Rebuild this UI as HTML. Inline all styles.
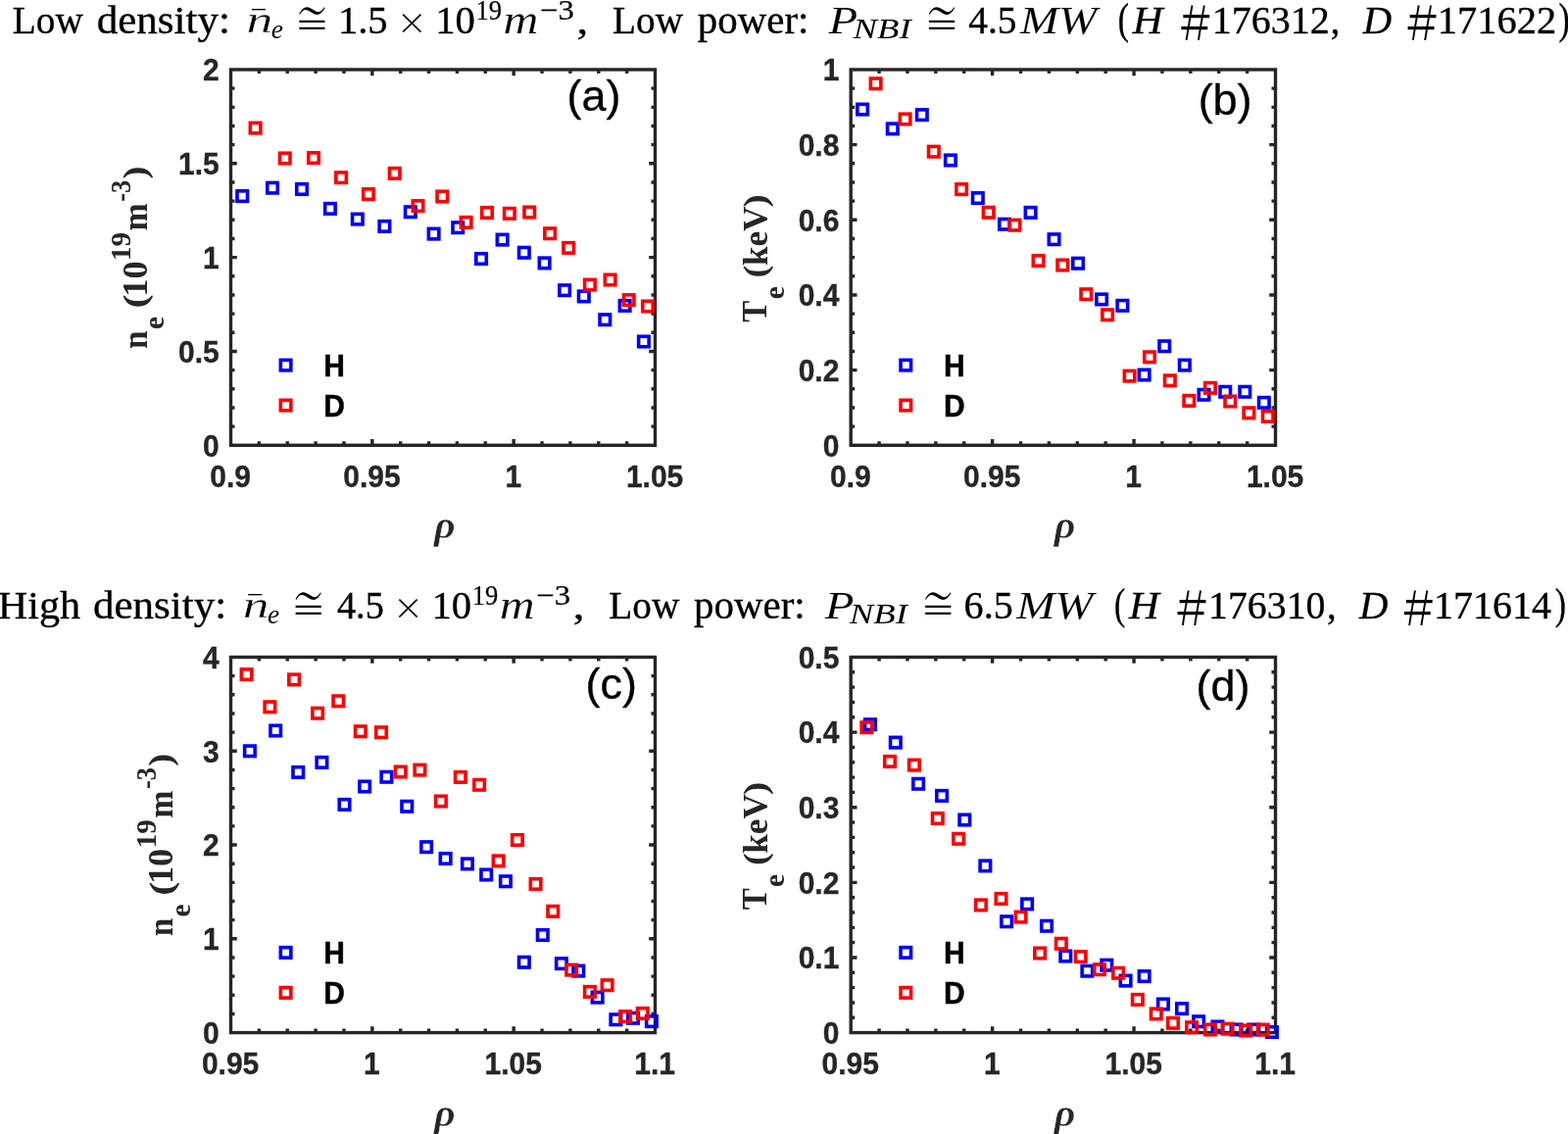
<!DOCTYPE html>
<html lang="en"><head><meta charset="utf-8"><title>Edge profiles: H vs D</title>
<style>
html,body{margin:0;padding:0;background:#fff;}
body{width:1600px;height:1157px;overflow:hidden;}
svg{display:block;}
.tk{font-family:"Liberation Sans",Arial,Helvetica,sans-serif;font-weight:bold;font-size:30px;fill:#262626;stroke:#262626;stroke-width:0.35px;}
.lg{font-family:"Liberation Sans",Arial,Helvetica,sans-serif;font-weight:bold;font-size:30px;fill:#000;stroke:#000;stroke-width:0.45px;}
.tg{font-family:"Liberation Sans",Arial,Helvetica,sans-serif;font-size:43px;fill:#000;stroke:#000;stroke-width:0.3px;text-anchor:middle;}
.yl{font-family:"Liberation Serif","Times New Roman",Times,serif;font-weight:bold;font-size:36px;fill:#262626;}
.ys{font-size:29px;}
.xl{font-family:"Liberation Serif","Times New Roman",Times,serif;font-weight:bold;font-style:italic;font-size:40px;fill:#262626;stroke:#fff;stroke-width:0.4px;}
.tt{font-family:"Liberation Serif","Times New Roman",Times,serif;font-size:40.5px;fill:#000;stroke:#000;stroke-width:0.35px;}
.it{font-style:italic;stroke:none;}
.ss{font-size:29px;stroke-width:0.2px;}
.ss.it{stroke:none;}
.sy{font-family:"Noto Serif CJK SC","Noto Sans CJK SC","DejaVu Sans",serif;font-weight:400;stroke:#000;stroke-width:0.4px;}
.ax{fill:none;stroke:#262626;stroke-width:3.4;}
.mk{fill:none;stroke-width:3.6;}
.H{stroke:#0000ff;}
.D{stroke:#ff0000;}
</style></head><body>
<svg width="1600" height="1157" viewBox="0 0 1600 1157">
<rect x="0" y="0" width="1600" height="1157" fill="#ffffff"/>
<g id="titles" class="tt">
<text transform="translate(12.84 33.75) scale(0.971 1)">Low</text>
<text transform="translate(98.71 33.75) scale(1.063 1)">density:</text>
<text transform="translate(257.37 28.37) scale(0.663 0.629)">¯</text>
<text class="it" style="stroke:#fff;stroke-width:0.36px" transform="translate(251.41 33.3) scale(1.326 0.947)">n</text>
<text class="ss it" transform="translate(276.85 39.22) scale(0.947 0.939)">e</text>
<text class="sy" style="stroke:none" transform="translate(299.76 39.23) scale(0.923 1.324)">≅</text>
<text transform="translate(344.88 33.75) scale(1.004 1)">1.5</text>
<text class="sy" transform="translate(404.76 34.69) scale(0.767 0.758)">×</text>
<text transform="translate(444.29 33.75) scale(1.004 1)">10</text>
<text class="ss" transform="translate(485.51 19.95) scale(0.917 1)">19</text>
<text class="it" style="stroke:#fff;stroke-width:0.20px" transform="translate(513.46 33.75) scale(1.227 1)">m</text>
<text class="ss" transform="translate(551.11 19.95) scale(1.129 1)">−3</text>
<text transform="translate(588.57 33.75) scale(1.150 1)">,</text>
<text transform="translate(625.09 33.75) scale(0.969 1)">Low</text>
<text transform="translate(711.79 33.75) scale(1.011 1)">power:</text>
<text class="it" style="stroke:#fff;stroke-width:0.16px" transform="translate(845.6 33.75) scale(1.200 1)">P</text>
<text class="ss it" transform="translate(870.62 39.1) scale(1.264 1.021)">NBI</text>
<text class="sy" style="stroke:none" transform="translate(942.24 39.23) scale(0.926 1.324)">≅</text>
<text transform="translate(988.32 33.75) scale(0.972 1)">4.5</text>
<text class="it" style="stroke:#fff;stroke-width:0.10px" transform="translate(1040.88 33.75) scale(1.162 1)">MW</text>
<text transform="translate(1140.74 33.62) scale(0.833 1.079)">(</text>
<text class="it" style="stroke:#000;stroke-width:0.3px" transform="translate(1155.83 33.75) scale(1.052 1)">H</text>
<text class="sy" style="stroke:none" transform="translate(1203.94 40.7) scale(1.355 1.233)">#</text>
<text transform="translate(1236.84 33.75) scale(0.988 1)">176312</text>
<text transform="translate(1357.64 33.75) scale(0.942 1)">,</text>
<text class="it" style="stroke:#000;stroke-width:0.3px" transform="translate(1390.8 33.75) scale(1.005 1)">D</text>
<text class="sy" style="stroke:none" transform="translate(1435.2 40.7) scale(1.353 1.233)">#</text>
<text transform="translate(1466.8 33.75) scale(0.999 1)">171622</text>
<text transform="translate(1590.51 33.62) scale(0.833 1.079)">)</text>
<text transform="translate(-2.2 630.75) scale(1.041 1)">High</text>
<text transform="translate(94.96 630.75) scale(1.063 1)">density:</text>
<text transform="translate(253.62 625.37) scale(0.663 0.629)">¯</text>
<text class="it" style="stroke:#fff;stroke-width:0.36px" transform="translate(247.66 630.3) scale(1.326 0.947)">n</text>
<text class="ss it" transform="translate(273.1 636.22) scale(0.947 0.939)">e</text>
<text class="sy" style="stroke:none" transform="translate(296.01 636.23) scale(0.923 1.324)">≅</text>
<text transform="translate(343.94 630.75) scale(0.947 1)">4.5</text>
<text class="sy" transform="translate(401.01 631.69) scale(0.767 0.758)">×</text>
<text transform="translate(440.54 630.75) scale(1.004 1)">10</text>
<text class="ss" transform="translate(481.76 616.95) scale(0.917 1)">19</text>
<text class="it" style="stroke:#fff;stroke-width:0.20px" transform="translate(509.71 630.75) scale(1.227 1)">m</text>
<text class="ss" transform="translate(547.36 616.95) scale(1.129 1)">−3</text>
<text transform="translate(584.82 630.75) scale(1.150 1)">,</text>
<text transform="translate(621.34 630.75) scale(0.969 1)">Low</text>
<text transform="translate(708.04 630.75) scale(1.011 1)">power:</text>
<text class="it" style="stroke:#fff;stroke-width:0.16px" transform="translate(841.85 630.75) scale(1.200 1)">P</text>
<text class="ss it" transform="translate(866.87 636.1) scale(1.264 1.021)">NBI</text>
<text class="sy" style="stroke:none" transform="translate(938.49 636.23) scale(0.926 1.324)">≅</text>
<text transform="translate(983.56 630.75) scale(0.993 1)">6.5</text>
<text class="it" style="stroke:#fff;stroke-width:0.10px" transform="translate(1037.13 630.75) scale(1.162 1)">MW</text>
<text transform="translate(1136.99 630.62) scale(0.833 1.079)">(</text>
<text class="it" style="stroke:#000;stroke-width:0.3px" transform="translate(1152.08 630.75) scale(1.052 1)">H</text>
<text class="sy" style="stroke:none" transform="translate(1200.19 637.7) scale(1.355 1.233)">#</text>
<text transform="translate(1233.11 630.75) scale(0.982 1)">176310</text>
<text transform="translate(1353.89 630.75) scale(0.942 1)">,</text>
<text class="it" style="stroke:#000;stroke-width:0.3px" transform="translate(1387.05 630.75) scale(1.005 1)">D</text>
<text class="sy" style="stroke:none" transform="translate(1431.45 637.7) scale(1.353 1.233)">#</text>
<text transform="translate(1463.1 630.75) scale(0.986 1)">171614</text>
<text transform="translate(1586.76 630.62) scale(0.833 1.079)">)</text>
</g>
<g id="panel-a">
<path class="ax" d="M264.37 454.3v-4M264.37 71v4M293.23 454.3v-4M293.23 71v4M322.1 454.3v-4M322.1 71v4M350.97 454.3v-4M350.97 71v4M379.83 454.3v-6.3M379.83 71v6.3M408.7 454.3v-4M408.7 71v4M437.57 454.3v-4M437.57 71v4M466.43 454.3v-4M466.43 71v4M495.3 454.3v-4M495.3 71v4M524.17 454.3v-6.3M524.17 71v6.3M553.03 454.3v-4M553.03 71v4M581.9 454.3v-4M581.9 71v4M610.77 454.3v-4M610.77 71v4M639.63 454.3v-4M639.63 71v4M235.5 435.13h4M668.5 435.13h-4M235.5 415.97h4M668.5 415.97h-4M235.5 396.81h4M668.5 396.81h-4M235.5 377.64h4M668.5 377.64h-4M235.5 358.48h6.3M668.5 358.48h-6.3M235.5 339.31h4M668.5 339.31h-4M235.5 320.14h4M668.5 320.14h-4M235.5 300.98h4M668.5 300.98h-4M235.5 281.81h4M668.5 281.81h-4M235.5 262.65h6.3M668.5 262.65h-6.3M235.5 243.48h4M668.5 243.48h-4M235.5 224.32h4M668.5 224.32h-4M235.5 205.16h4M668.5 205.16h-4M235.5 185.99h4M668.5 185.99h-4M235.5 166.82h6.3M668.5 166.82h-6.3M235.5 147.66h4M668.5 147.66h-4M235.5 128.49h4M668.5 128.49h-4M235.5 109.33h4M668.5 109.33h-4M235.5 90.16h4M668.5 90.16h-4"/>
<rect class="ax" x="235.5" y="71" width="433" height="383.3"/>
<text class="tk" text-anchor="middle" transform="translate(235.1 496.9) scale(1 1.022)">0.9</text>
<text class="tk" text-anchor="middle" transform="translate(379.43 496.9) scale(1 1.022)">0.95</text>
<text class="tk" text-anchor="middle" transform="translate(523.77 496.9) scale(1 1.022)">1</text>
<text class="tk" text-anchor="middle" transform="translate(668.1 496.9) scale(1 1.022)">1.05</text>
<text class="tk" text-anchor="end" transform="translate(223.7 465.6) scale(1 1.022)">0</text>
<text class="tk" text-anchor="end" transform="translate(223.7 369.78) scale(1 1.022)">0.5</text>
<text class="tk" text-anchor="end" transform="translate(223.7 273.95) scale(1 1.022)">1</text>
<text class="tk" text-anchor="end" transform="translate(223.7 178.12) scale(1 1.022)">1.5</text>
<text class="tk" text-anchor="end" transform="translate(223.7 82.3) scale(1 1.022)">2</text>
<text class="xl" transform="translate(442.95 549.3) scale(1.052 0.98)">ρ</text>
<g class="yl">
<text transform="translate(149.8 355.93) rotate(-90) scale(0.930 0.988)">n</text>
<text class="ys" transform="translate(167.25 336.12) rotate(-90) scale(1.018 1.011)">e</text>
<text transform="translate(149.24 314.47) rotate(-90) scale(1.178 0.942)">(</text>
<text transform="translate(149.65 302.72) rotate(-90) scale(1.008 0.992)">10</text>
<text class="ys" transform="translate(132.65 265.95) rotate(-90) scale(0.998 1.005)">19</text>
<text transform="translate(149.9 235.43) rotate(-90) scale(0.935 0.982)">m</text>
<text class="ys" transform="translate(132.94 205.81) rotate(-90) scale(0.912 1.021)">-3</text>
<text transform="translate(148.87 182.55) rotate(-90) scale(1.081 0.924)">)</text>
</g>
<rect class="mk H" x="286.35" y="367.35" width="10.5" height="10.5"/>
<rect class="mk D" x="286.35" y="408.3" width="10.5" height="10.5"/>
<text class="lg" transform="translate(330.2 383.75) scale(1 1.022)">H</text>
<text class="lg" transform="translate(330.2 424.75) scale(1 1.022)">D</text>
<text class="tg" transform="translate(606 112.5) scale(1.045 1.015)">(a)</text>
<g class="mk H">
<rect x="242" y="194.85" width="10.5" height="10.5"/>
<rect x="272.75" y="186.45" width="10.5" height="10.5"/>
<rect x="302.75" y="187.75" width="10.5" height="10.5"/>
<rect x="331.65" y="207.65" width="10.5" height="10.5"/>
<rect x="359.55" y="218.35" width="10.5" height="10.5"/>
<rect x="387.15" y="225.65" width="10.5" height="10.5"/>
<rect x="413.55" y="211" width="10.5" height="10.5"/>
<rect x="437.35" y="233.35" width="10.5" height="10.5"/>
<rect x="462" y="226.95" width="10.5" height="10.5"/>
<rect x="485.8" y="258.75" width="10.5" height="10.5"/>
<rect x="507.35" y="239.35" width="10.5" height="10.5"/>
<rect x="529.55" y="252.5" width="10.5" height="10.5"/>
<rect x="550.35" y="263.15" width="10.5" height="10.5"/>
<rect x="570.85" y="290.95" width="10.5" height="10.5"/>
<rect x="590.5" y="297.15" width="10.5" height="10.5"/>
<rect x="612.05" y="320.95" width="10.5" height="10.5"/>
<rect x="632.35" y="306.65" width="10.5" height="10.5"/>
<rect x="651.65" y="343.25" width="10.5" height="10.5"/>
</g>
<g class="mk D">
<rect x="255.35" y="125.35" width="10.5" height="10.5"/>
<rect x="285.5" y="156.25" width="10.5" height="10.5"/>
<rect x="314.75" y="155.85" width="10.5" height="10.5"/>
<rect x="342.85" y="175.95" width="10.5" height="10.5"/>
<rect x="370.65" y="192.85" width="10.5" height="10.5"/>
<rect x="397.45" y="171.65" width="10.5" height="10.5"/>
<rect x="421.25" y="204.85" width="10.5" height="10.5"/>
<rect x="446.05" y="195.25" width="10.5" height="10.5"/>
<rect x="470.35" y="221.65" width="10.5" height="10.5"/>
<rect x="491.7" y="211.75" width="10.5" height="10.5"/>
<rect x="514.6" y="212.6" width="10.5" height="10.5"/>
<rect x="535" y="211.25" width="10.5" height="10.5"/>
<rect x="555.85" y="233" width="10.5" height="10.5"/>
<rect x="574.95" y="247.65" width="10.5" height="10.5"/>
<rect x="596.65" y="285.35" width="10.5" height="10.5"/>
<rect x="617.35" y="280.25" width="10.5" height="10.5"/>
<rect x="636.45" y="300.85" width="10.5" height="10.5"/>
<rect x="655.75" y="307.25" width="10.5" height="10.5"/>
</g>
</g>
<g id="panel-b">
<path class="ax" d="M897.09 454.3v-4M897.09 71v4M925.97 454.3v-4M925.97 71v4M954.86 454.3v-4M954.86 71v4M983.75 454.3v-4M983.75 71v4M1012.63 454.3v-6.3M1012.63 71v6.3M1041.52 454.3v-4M1041.52 71v4M1070.41 454.3v-4M1070.41 71v4M1099.29 454.3v-4M1099.29 71v4M1128.18 454.3v-4M1128.18 71v4M1157.07 454.3v-6.3M1157.07 71v6.3M1185.95 454.3v-4M1185.95 71v4M1214.84 454.3v-4M1214.84 71v4M1243.73 454.3v-4M1243.73 71v4M1272.61 454.3v-4M1272.61 71v4M868.2 435.13h4M1301.5 435.13h-4M868.2 415.97h4M1301.5 415.97h-4M868.2 396.81h4M1301.5 396.81h-4M868.2 377.64h6.3M1301.5 377.64h-6.3M868.2 358.48h4M1301.5 358.48h-4M868.2 339.31h4M1301.5 339.31h-4M868.2 320.14h4M1301.5 320.14h-4M868.2 300.98h6.3M1301.5 300.98h-6.3M868.2 281.81h4M1301.5 281.81h-4M868.2 262.65h4M1301.5 262.65h-4M868.2 243.48h4M1301.5 243.48h-4M868.2 224.32h6.3M1301.5 224.32h-6.3M868.2 205.16h4M1301.5 205.16h-4M868.2 185.99h4M1301.5 185.99h-4M868.2 166.82h4M1301.5 166.82h-4M868.2 147.66h6.3M1301.5 147.66h-6.3M868.2 128.49h4M1301.5 128.49h-4M868.2 109.33h4M1301.5 109.33h-4M868.2 90.16h4M1301.5 90.16h-4"/>
<rect class="ax" x="868.2" y="71" width="433.3" height="383.3"/>
<text class="tk" text-anchor="middle" transform="translate(867.8 496.9) scale(1 1.022)">0.9</text>
<text class="tk" text-anchor="middle" transform="translate(1012.23 496.9) scale(1 1.022)">0.95</text>
<text class="tk" text-anchor="middle" transform="translate(1156.67 496.9) scale(1 1.022)">1</text>
<text class="tk" text-anchor="middle" transform="translate(1301.1 496.9) scale(1 1.022)">1.05</text>
<text class="tk" text-anchor="end" transform="translate(856.4 465.6) scale(1 1.022)">0</text>
<text class="tk" text-anchor="end" transform="translate(856.4 388.94) scale(1 1.022)">0.2</text>
<text class="tk" text-anchor="end" transform="translate(856.4 312.28) scale(1 1.022)">0.4</text>
<text class="tk" text-anchor="end" transform="translate(856.4 235.62) scale(1 1.022)">0.6</text>
<text class="tk" text-anchor="end" transform="translate(856.4 158.96) scale(1 1.022)">0.8</text>
<text class="tk" text-anchor="end" transform="translate(856.4 82.3) scale(1 1.022)">1</text>
<text class="xl" transform="translate(1075.8 549.3) scale(1.052 0.98)">ρ</text>
<g class="yl">
<text transform="translate(782.2 328.66) rotate(-90) scale(0.920 0.987)">T</text>
<text class="ys" transform="translate(799.8 305.32) rotate(-90) scale(1.018 0.993)">e</text>
<text transform="translate(782.14 283.51) rotate(-90) scale(1.070 0.942)">(</text>
<text transform="translate(783 271.07) rotate(-90) scale(0.974 0.974)">keV</text>
<text transform="translate(782.08 211.38) rotate(-90) scale(1.103 0.949)">)</text>
</g>
<rect class="mk H" x="919.05" y="367.35" width="10.5" height="10.5"/>
<rect class="mk D" x="919.05" y="408.3" width="10.5" height="10.5"/>
<text class="lg" transform="translate(962.9 383.75) scale(1 1.022)">H</text>
<text class="lg" transform="translate(962.9 424.75) scale(1 1.022)">D</text>
<text class="tg" transform="translate(1250.1 116.8) scale(1.045 1.015)">(b)</text>
<g class="mk H">
<rect x="874.85" y="106.35" width="10.5" height="10.5"/>
<rect x="905.55" y="126.15" width="10.5" height="10.5"/>
<rect x="935.55" y="111.95" width="10.5" height="10.5"/>
<rect x="964.65" y="158.25" width="10.5" height="10.5"/>
<rect x="992.55" y="196.85" width="10.5" height="10.5"/>
<rect x="1019.75" y="223.5" width="10.5" height="10.5"/>
<rect x="1046.35" y="211.65" width="10.5" height="10.5"/>
<rect x="1070.3" y="238.95" width="10.5" height="10.5"/>
<rect x="1094.8" y="263.45" width="10.5" height="10.5"/>
<rect x="1118.85" y="300.15" width="10.5" height="10.5"/>
<rect x="1140.15" y="306.55" width="10.5" height="10.5"/>
<rect x="1162.35" y="377.25" width="10.5" height="10.5"/>
<rect x="1182.95" y="348" width="10.5" height="10.5"/>
<rect x="1203.55" y="367.35" width="10.5" height="10.5"/>
<rect x="1223.25" y="397.5" width="10.5" height="10.5"/>
<rect x="1245" y="394.5" width="10.5" height="10.5"/>
<rect x="1265.05" y="394.5" width="10.5" height="10.5"/>
<rect x="1284.55" y="405.55" width="10.5" height="10.5"/>
</g>
<g class="mk D">
<rect x="888.35" y="80.05" width="10.5" height="10.5"/>
<rect x="918.35" y="116.25" width="10.5" height="10.5"/>
<rect x="947.55" y="149.45" width="10.5" height="10.5"/>
<rect x="975.85" y="187.85" width="10.5" height="10.5"/>
<rect x="1003.45" y="211.5" width="10.5" height="10.5"/>
<rect x="1030.25" y="224.45" width="10.5" height="10.5"/>
<rect x="1054.3" y="260.75" width="10.5" height="10.5"/>
<rect x="1079.05" y="265.25" width="10.5" height="10.5"/>
<rect x="1103.05" y="294.95" width="10.5" height="10.5"/>
<rect x="1124.85" y="315.95" width="10.5" height="10.5"/>
<rect x="1147.35" y="378.35" width="10.5" height="10.5"/>
<rect x="1167.75" y="359.05" width="10.5" height="10.5"/>
<rect x="1188.55" y="383.05" width="10.5" height="10.5"/>
<rect x="1208.05" y="403.65" width="10.5" height="10.5"/>
<rect x="1229.65" y="390.55" width="10.5" height="10.5"/>
<rect x="1250.05" y="404.25" width="10.5" height="10.5"/>
<rect x="1269.15" y="416.05" width="10.5" height="10.5"/>
<rect x="1288.5" y="419.65" width="10.5" height="10.5"/>
</g>
</g>
<g id="panel-c">
<path class="ax" d="M264.37 1053.6v-4M264.37 670.5v4M293.23 1053.6v-4M293.23 670.5v4M322.1 1053.6v-4M322.1 670.5v4M350.97 1053.6v-4M350.97 670.5v4M379.83 1053.6v-6.3M379.83 670.5v6.3M408.7 1053.6v-4M408.7 670.5v4M437.57 1053.6v-4M437.57 670.5v4M466.43 1053.6v-4M466.43 670.5v4M495.3 1053.6v-4M495.3 670.5v4M524.17 1053.6v-6.3M524.17 670.5v6.3M553.03 1053.6v-4M553.03 670.5v4M581.9 1053.6v-4M581.9 670.5v4M610.77 1053.6v-4M610.77 670.5v4M639.63 1053.6v-4M639.63 670.5v4M235.5 1034.44h4M668.5 1034.44h-4M235.5 1015.29h4M668.5 1015.29h-4M235.5 996.13h4M668.5 996.13h-4M235.5 976.98h4M668.5 976.98h-4M235.5 957.82h6.3M668.5 957.82h-6.3M235.5 938.67h4M668.5 938.67h-4M235.5 919.51h4M668.5 919.51h-4M235.5 900.36h4M668.5 900.36h-4M235.5 881.2h4M668.5 881.2h-4M235.5 862.05h6.3M668.5 862.05h-6.3M235.5 842.89h4M668.5 842.89h-4M235.5 823.74h4M668.5 823.74h-4M235.5 804.58h4M668.5 804.58h-4M235.5 785.43h4M668.5 785.43h-4M235.5 766.27h6.3M668.5 766.27h-6.3M235.5 747.12h4M668.5 747.12h-4M235.5 727.96h4M668.5 727.96h-4M235.5 708.81h4M668.5 708.81h-4M235.5 689.65h4M668.5 689.65h-4"/>
<rect class="ax" x="235.5" y="670.5" width="433" height="383.1"/>
<text class="tk" text-anchor="middle" transform="translate(235.1 1096.2) scale(1 1.022)">0.95</text>
<text class="tk" text-anchor="middle" transform="translate(379.43 1096.2) scale(1 1.022)">1</text>
<text class="tk" text-anchor="middle" transform="translate(523.77 1096.2) scale(1 1.022)">1.05</text>
<text class="tk" text-anchor="middle" transform="translate(668.1 1096.2) scale(1 1.022)">1.1</text>
<text class="tk" text-anchor="end" transform="translate(223.7 1064.9) scale(1 1.022)">0</text>
<text class="tk" text-anchor="end" transform="translate(223.7 969.12) scale(1 1.022)">1</text>
<text class="tk" text-anchor="end" transform="translate(223.7 873.35) scale(1 1.022)">2</text>
<text class="tk" text-anchor="end" transform="translate(223.7 777.57) scale(1 1.022)">3</text>
<text class="tk" text-anchor="end" transform="translate(223.7 681.8) scale(1 1.022)">4</text>
<text class="xl" transform="translate(442.95 1148.6) scale(1.052 0.98)">ρ</text>
<g class="yl">
<text transform="translate(176.35 955.23) rotate(-90) scale(0.930 0.988)">n</text>
<text class="ys" transform="translate(193.8 935.42) rotate(-90) scale(1.018 1.011)">e</text>
<text transform="translate(175.79 913.77) rotate(-90) scale(1.178 0.942)">(</text>
<text transform="translate(176.2 902.02) rotate(-90) scale(1.008 0.992)">10</text>
<text class="ys" transform="translate(159.2 865.25) rotate(-90) scale(0.998 1.005)">19</text>
<text transform="translate(176.45 834.73) rotate(-90) scale(0.935 0.982)">m</text>
<text class="ys" transform="translate(159.49 805.11) rotate(-90) scale(0.912 1.021)">-3</text>
<text transform="translate(175.42 781.85) rotate(-90) scale(1.081 0.924)">)</text>
</g>
<rect class="mk H" x="286.35" y="966.65" width="10.5" height="10.5"/>
<rect class="mk D" x="286.35" y="1007.6" width="10.5" height="10.5"/>
<text class="lg" transform="translate(330.2 983.05) scale(1 1.022)">H</text>
<text class="lg" transform="translate(330.2 1024.05) scale(1 1.022)">D</text>
<text class="tg" transform="translate(623.8 713.1) scale(1.045 1.015)">(c)</text>
<g class="mk H">
<rect x="249.65" y="761.05" width="10.5" height="10.5"/>
<rect x="275.95" y="740.25" width="10.5" height="10.5"/>
<rect x="299" y="782.65" width="10.5" height="10.5"/>
<rect x="323.15" y="772.65" width="10.5" height="10.5"/>
<rect x="346.25" y="815.65" width="10.5" height="10.5"/>
<rect x="366.85" y="797.25" width="10.5" height="10.5"/>
<rect x="389.15" y="787.5" width="10.5" height="10.5"/>
<rect x="410" y="817.5" width="10.5" height="10.5"/>
<rect x="429.85" y="858.95" width="10.5" height="10.5"/>
<rect x="449.35" y="870.75" width="10.5" height="10.5"/>
<rect x="471.65" y="876.15" width="10.5" height="10.5"/>
<rect x="490.95" y="887.25" width="10.5" height="10.5"/>
<rect x="510.65" y="894" width="10.5" height="10.5"/>
<rect x="529.55" y="976.5" width="10.5" height="10.5"/>
<rect x="548.5" y="948.75" width="10.5" height="10.5"/>
<rect x="567.65" y="977.85" width="10.5" height="10.5"/>
<rect x="585.05" y="985.35" width="10.5" height="10.5"/>
<rect x="604.35" y="1012.35" width="10.5" height="10.5"/>
<rect x="623.15" y="1035" width="10.5" height="10.5"/>
<rect x="640.75" y="1033.5" width="10.5" height="10.5"/>
<rect x="659.65" y="1036.85" width="10.5" height="10.5"/>
</g>
<g class="mk D">
<rect x="246.35" y="682.85" width="10.5" height="10.5"/>
<rect x="270.15" y="716.05" width="10.5" height="10.5"/>
<rect x="294.85" y="688.15" width="10.5" height="10.5"/>
<rect x="318.85" y="722.45" width="10.5" height="10.5"/>
<rect x="340.05" y="710.05" width="10.5" height="10.5"/>
<rect x="362.55" y="741" width="10.5" height="10.5"/>
<rect x="383.75" y="741.95" width="10.5" height="10.5"/>
<rect x="403.45" y="782.25" width="10.5" height="10.5"/>
<rect x="423.15" y="780.35" width="10.5" height="10.5"/>
<rect x="444.65" y="812.25" width="10.5" height="10.5"/>
<rect x="464.55" y="787.65" width="10.5" height="10.5"/>
<rect x="483.85" y="795.55" width="10.5" height="10.5"/>
<rect x="503.35" y="873.15" width="10.5" height="10.5"/>
<rect x="522.65" y="851.75" width="10.5" height="10.5"/>
<rect x="541.35" y="896.65" width="10.5" height="10.5"/>
<rect x="559" y="924.55" width="10.5" height="10.5"/>
<rect x="577.95" y="984.35" width="10.5" height="10.5"/>
<rect x="596.65" y="1006.65" width="10.5" height="10.5"/>
<rect x="614.35" y="999.95" width="10.5" height="10.5"/>
<rect x="632.85" y="1031.85" width="10.5" height="10.5"/>
<rect x="650.5" y="1028.65" width="10.5" height="10.5"/>
</g>
</g>
<g id="panel-d">
<path class="ax" d="M897.09 1053.6v-4M897.09 670.5v4M925.97 1053.6v-4M925.97 670.5v4M954.86 1053.6v-4M954.86 670.5v4M983.75 1053.6v-4M983.75 670.5v4M1012.63 1053.6v-6.3M1012.63 670.5v6.3M1041.52 1053.6v-4M1041.52 670.5v4M1070.41 1053.6v-4M1070.41 670.5v4M1099.29 1053.6v-4M1099.29 670.5v4M1128.18 1053.6v-4M1128.18 670.5v4M1157.07 1053.6v-6.3M1157.07 670.5v6.3M1185.95 1053.6v-4M1185.95 670.5v4M1214.84 1053.6v-4M1214.84 670.5v4M1243.73 1053.6v-4M1243.73 670.5v4M1272.61 1053.6v-4M1272.61 670.5v4M868.2 1038.28h4M1301.5 1038.28h-4M868.2 1022.95h4M1301.5 1022.95h-4M868.2 1007.63h4M1301.5 1007.63h-4M868.2 992.3h4M1301.5 992.3h-4M868.2 976.98h6.3M1301.5 976.98h-6.3M868.2 961.66h4M1301.5 961.66h-4M868.2 946.33h4M1301.5 946.33h-4M868.2 931.01h4M1301.5 931.01h-4M868.2 915.68h4M1301.5 915.68h-4M868.2 900.36h6.3M1301.5 900.36h-6.3M868.2 885.04h4M1301.5 885.04h-4M868.2 869.71h4M1301.5 869.71h-4M868.2 854.39h4M1301.5 854.39h-4M868.2 839.06h4M1301.5 839.06h-4M868.2 823.74h6.3M1301.5 823.74h-6.3M868.2 808.42h4M1301.5 808.42h-4M868.2 793.09h4M1301.5 793.09h-4M868.2 777.77h4M1301.5 777.77h-4M868.2 762.44h4M1301.5 762.44h-4M868.2 747.12h6.3M1301.5 747.12h-6.3M868.2 731.8h4M1301.5 731.8h-4M868.2 716.47h4M1301.5 716.47h-4M868.2 701.15h4M1301.5 701.15h-4M868.2 685.82h4M1301.5 685.82h-4"/>
<rect class="ax" x="868.2" y="670.5" width="433.3" height="383.1"/>
<text class="tk" text-anchor="middle" transform="translate(867.8 1096.2) scale(1 1.022)">0.95</text>
<text class="tk" text-anchor="middle" transform="translate(1012.23 1096.2) scale(1 1.022)">1</text>
<text class="tk" text-anchor="middle" transform="translate(1156.67 1096.2) scale(1 1.022)">1.05</text>
<text class="tk" text-anchor="middle" transform="translate(1301.1 1096.2) scale(1 1.022)">1.1</text>
<text class="tk" text-anchor="end" transform="translate(856.4 1064.9) scale(1 1.022)">0</text>
<text class="tk" text-anchor="end" transform="translate(856.4 988.28) scale(1 1.022)">0.1</text>
<text class="tk" text-anchor="end" transform="translate(856.4 911.66) scale(1 1.022)">0.2</text>
<text class="tk" text-anchor="end" transform="translate(856.4 835.04) scale(1 1.022)">0.3</text>
<text class="tk" text-anchor="end" transform="translate(856.4 758.42) scale(1 1.022)">0.4</text>
<text class="tk" text-anchor="end" transform="translate(856.4 681.8) scale(1 1.022)">0.5</text>
<text class="xl" transform="translate(1075.8 1148.6) scale(1.052 0.98)">ρ</text>
<g class="yl">
<text transform="translate(782.2 928.26) rotate(-90) scale(0.920 0.987)">T</text>
<text class="ys" transform="translate(799.8 904.92) rotate(-90) scale(1.018 0.993)">e</text>
<text transform="translate(782.14 883.11) rotate(-90) scale(1.070 0.942)">(</text>
<text transform="translate(783 870.67) rotate(-90) scale(0.974 0.974)">keV</text>
<text transform="translate(782.08 810.98) rotate(-90) scale(1.103 0.949)">)</text>
</g>
<rect class="mk H" x="919.05" y="966.65" width="10.5" height="10.5"/>
<rect class="mk D" x="919.05" y="1007.6" width="10.5" height="10.5"/>
<text class="lg" transform="translate(962.9 983.05) scale(1 1.022)">H</text>
<text class="lg" transform="translate(962.9 1024.05) scale(1 1.022)">D</text>
<text class="tg" transform="translate(1247.9 714.8) scale(1.045 1.015)">(d)</text>
<g class="mk H">
<rect x="882.65" y="733.95" width="10.5" height="10.5"/>
<rect x="908.55" y="752.35" width="10.5" height="10.5"/>
<rect x="931.85" y="794.5" width="10.5" height="10.5"/>
<rect x="955.85" y="806.65" width="10.5" height="10.5"/>
<rect x="979.05" y="831.25" width="10.5" height="10.5"/>
<rect x="1000.1" y="878.15" width="10.5" height="10.5"/>
<rect x="1021.85" y="935" width="10.5" height="10.5"/>
<rect x="1042.85" y="917.15" width="10.5" height="10.5"/>
<rect x="1062.75" y="939.5" width="10.5" height="10.5"/>
<rect x="1082.05" y="970.25" width="10.5" height="10.5"/>
<rect x="1104.15" y="985.45" width="10.5" height="10.5"/>
<rect x="1124.05" y="979.45" width="10.5" height="10.5"/>
<rect x="1143.35" y="995.35" width="10.5" height="10.5"/>
<rect x="1162.35" y="990.85" width="10.5" height="10.5"/>
<rect x="1181.65" y="1019.25" width="10.5" height="10.5"/>
<rect x="1200.75" y="1023.85" width="10.5" height="10.5"/>
<rect x="1217.85" y="1037" width="10.5" height="10.5"/>
<rect x="1237.25" y="1042.25" width="10.5" height="10.5"/>
<rect x="1256.35" y="1045.25" width="10.5" height="10.5"/>
<rect x="1274.05" y="1045.25" width="10.5" height="10.5"/>
<rect x="1292.65" y="1047.75" width="10.5" height="10.5"/>
</g>
<g class="mk D">
<rect x="879.15" y="736.95" width="10.5" height="10.5"/>
<rect x="902.75" y="771.65" width="10.5" height="10.5"/>
<rect x="927.65" y="775.35" width="10.5" height="10.5"/>
<rect x="951.5" y="829.75" width="10.5" height="10.5"/>
<rect x="972.85" y="850.55" width="10.5" height="10.5"/>
<rect x="995.65" y="918.15" width="10.5" height="10.5"/>
<rect x="1016.25" y="911.75" width="10.5" height="10.5"/>
<rect x="1036.35" y="930.35" width="10.5" height="10.5"/>
<rect x="1055.85" y="967.25" width="10.5" height="10.5"/>
<rect x="1077.55" y="957.5" width="10.5" height="10.5"/>
<rect x="1097.45" y="970.85" width="10.5" height="10.5"/>
<rect x="1116.75" y="983.95" width="10.5" height="10.5"/>
<rect x="1135.85" y="987.5" width="10.5" height="10.5"/>
<rect x="1155.55" y="1014.65" width="10.5" height="10.5"/>
<rect x="1174.5" y="1029.15" width="10.5" height="10.5"/>
<rect x="1191.75" y="1038.55" width="10.5" height="10.5"/>
<rect x="1210.8" y="1042.95" width="10.5" height="10.5"/>
<rect x="1229.7" y="1045.25" width="10.5" height="10.5"/>
<rect x="1247.3" y="1044.45" width="10.5" height="10.5"/>
<rect x="1265.85" y="1046.25" width="10.5" height="10.5"/>
<rect x="1283.45" y="1045.35" width="10.5" height="10.5"/>
</g>
</g>
</svg>
</body></html>
